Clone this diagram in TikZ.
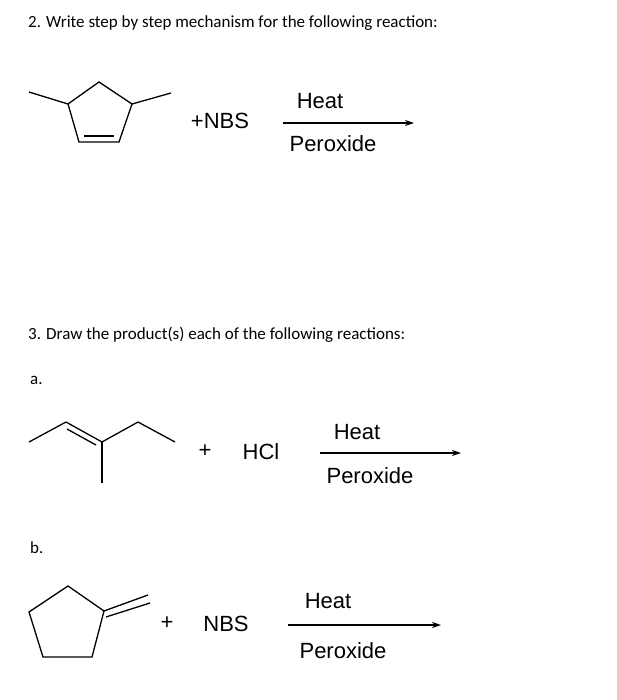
\documentclass[tikz,border=0pt]{standalone}
\usetikzlibrary{arrows.meta}
\usepackage{fontspec}
\setmainfont{Carlito}
\newfontfamily\arial{Liberation Sans}
\begin{document}
\begin{tikzpicture}[x=1pt,y=-1pt,
  bond/.style={line width=1.3pt,line join=miter},
  title/.style={anchor=west,inner sep=0pt,font=\fontsize{17}{20}\selectfont},
  lab/.style={inner sep=0pt,font=\arial\fontsize{22}{26}\selectfont},
  arr/.style={line width=1.3pt,-{Stealth[length=9pt,width=6pt]}}]
\useasboundingbox[fill=white] (0,0) rectangle (616,700);
\node[title] (t2) at (28,23) {2. Write step by step mechanism for the following reaction:};
\node[title] (t3) at (28,335) {3. Draw the product(s) each of the following reactions:};
\node[title] (ta) at (30,380) {a.};
\node[title] (tb) at (30,548) {b.};
% molecule 1
\draw[bond] (29,92) -- (68,104) -- (99,82) -- (132,104) -- (171,93);
\draw[bond] (68,104) -- (79,142) -- (119,142) -- (132,104);
\draw[bond] (84,136) -- (114,136);
\node[lab] (p1) at (220,121) {+NBS};
\coordinate (a1s) at (283,123); \coordinate (a1e) at (414,123);
\draw[arr] (a1s) -- (a1e);
\node[lab] (h1) at (320,101) {Heat};
\node[lab] (o1) at (333,144) {Peroxide};
% molecule 2
\draw[bond] (29,442) -- (66,422) -- (102,442) -- (138,422) -- (175,442);
\draw[bond] (102,442) -- (102,483);
\draw[bond] (67,429) -- (96,445);
\node[lab] (p2) at (205,451) {+};
\node[lab] (c2) at (261,452) {HCl};
\coordinate (a2s) at (320,453); \coordinate (a2e) at (461,453);
\draw[arr] (a2s) -- (a2e);
\node[lab] (h2) at (357,432) {Heat};
\node[lab] (o2) at (370,476) {Peroxide};
% molecule 3
\draw[bond] (68,586) -- (104,611) -- (92,657) -- (43,657) -- (29,612) -- cycle;
\draw[bond] (104,611) -- (148,595);
\draw[bond] (106,617) -- (150,603);
\node[lab] (p3) at (167,623) {+};
\node[lab] (n3) at (226,624) {NBS};
\coordinate (a3s) at (288,625); \coordinate (a3e) at (441,625);
\draw[arr] (a3s) -- (a3e);
\node[lab] (h3) at (328,601) {Heat};
\node[lab] (o3) at (343,651) {Peroxide};
\end{tikzpicture}
\end{document}
